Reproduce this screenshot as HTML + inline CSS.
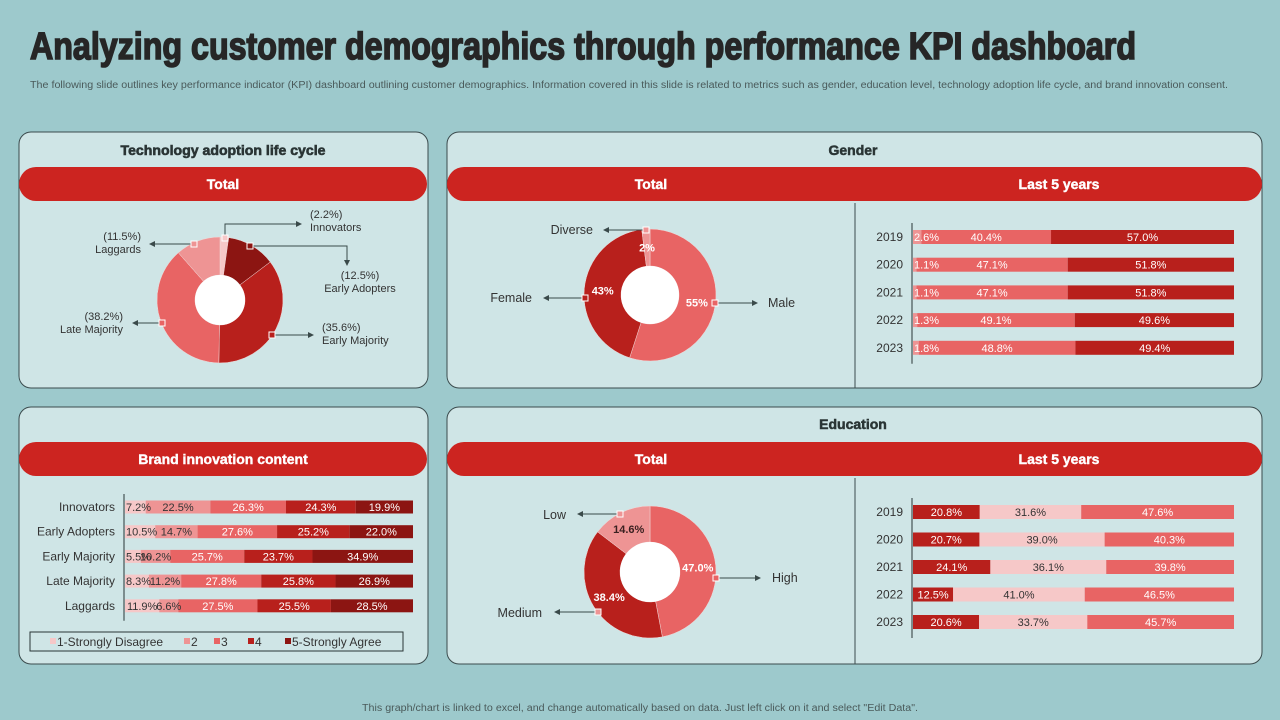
<!DOCTYPE html>
<html><head><meta charset="utf-8"><style>
html,body{margin:0;padding:0;background:#9dc9cc;}
svg{display:block;font-family:"Liberation Sans",sans-serif;}
</style></head><body>
<svg id="s" width="1280" height="720" viewBox="0 0 1280 720" xmlns="http://www.w3.org/2000/svg">
<defs><marker id="ar" markerWidth="6" markerHeight="6" refX="5" refY="3" orient="auto"><path d="M0,0L6,3L0,6Z" fill="#3a4a4a"/></marker></defs>
<rect width="1280" height="720" fill="#9dc9cc"/>
<text x="30" y="59" font-size="38" font-weight="bold" fill="#262626" stroke="#262626" stroke-width="1.6" textLength="1106" lengthAdjust="spacingAndGlyphs" font-family="'Liberation Sans Narrow','Liberation Sans',sans-serif">Analyzing customer demographics through performance KPI dashboard</text>
<text x="30" y="88" font-size="10" fill="#4a5a5a" textLength="1198" lengthAdjust="spacingAndGlyphs">The following slide outlines key performance indicator (KPI) dashboard outlining customer demographics. Information covered in this slide is related to metrics such as gender, education level, technology adoption life cycle, and brand innovation consent.</text>

<g>
<rect x="19" y="132" width="409" height="256" rx="12" fill="#cfe5e6" stroke="#3b4b4d" stroke-width="1"/>
<text x="223" y="155" text-anchor="middle" font-size="14" font-weight="bold" fill="#2a3535" stroke="#2a3535" stroke-width="0.6" textLength="205" lengthAdjust="spacingAndGlyphs" font-family="'Liberation Sans Narrow','Liberation Sans',sans-serif">Technology adoption life cycle</text>
<rect x="19" y="167" width="408" height="34" rx="17" fill="#cc2420"/>
<text x="223" y="189" text-anchor="middle" font-size="14" font-weight="bold" fill="#fff" stroke="#fff" stroke-width="0.4" font-family="'Liberation Sans Narrow','Liberation Sans',sans-serif">Total</text>
</g>
<g>
<rect x="447" y="132" width="815" height="256" rx="12" fill="#cfe5e6" stroke="#3b4b4d" stroke-width="1"/>
<text x="853" y="155" text-anchor="middle" font-size="14" font-weight="bold" fill="#2a3535" stroke="#2a3535" stroke-width="0.5" font-family="'Liberation Sans Narrow','Liberation Sans',sans-serif">Gender</text>
<rect x="447" y="167" width="815" height="34" rx="17" fill="#cc2420"/>
<text x="651" y="189" text-anchor="middle" font-size="14" font-weight="bold" fill="#fff" stroke="#fff" stroke-width="0.4" font-family="'Liberation Sans Narrow','Liberation Sans',sans-serif">Total</text>
<text x="1059" y="189" text-anchor="middle" font-size="14" font-weight="bold" fill="#fff" stroke="#fff" stroke-width="0.4" font-family="'Liberation Sans Narrow','Liberation Sans',sans-serif">Last 5 years</text>
<line x1="855" y1="203" x2="855" y2="388" stroke="#3b4b4d"/>
</g>
<g>
<rect x="19" y="407" width="409" height="257" rx="12" fill="#cfe5e6" stroke="#3b4b4d" stroke-width="1"/>
<rect x="19" y="442" width="408" height="34" rx="17" fill="#cc2420"/>
<text x="223" y="464" text-anchor="middle" font-size="14" font-weight="bold" fill="#fff" stroke="#fff" stroke-width="0.4" font-family="'Liberation Sans Narrow','Liberation Sans',sans-serif">Brand innovation content</text>
</g>
<g>
<rect x="447" y="407" width="815" height="257" rx="12" fill="#cfe5e6" stroke="#3b4b4d" stroke-width="1"/>
<text x="853" y="429" text-anchor="middle" font-size="14" font-weight="bold" fill="#2a3535" stroke="#2a3535" stroke-width="0.5" font-family="'Liberation Sans Narrow','Liberation Sans',sans-serif">Education</text>
<rect x="447" y="442" width="815" height="34" rx="17" fill="#cc2420"/>
<text x="651" y="464" text-anchor="middle" font-size="14" font-weight="bold" fill="#fff" stroke="#fff" stroke-width="0.4" font-family="'Liberation Sans Narrow','Liberation Sans',sans-serif">Total</text>
<text x="1059" y="464" text-anchor="middle" font-size="14" font-weight="bold" fill="#fff" stroke="#fff" stroke-width="0.4" font-family="'Liberation Sans Narrow','Liberation Sans',sans-serif">Last 5 years</text>
<line x1="855" y1="478" x2="855" y2="664" stroke="#3b4b4d"/>
</g>
<g id="charts"></g>
<text x="640" y="711" text-anchor="middle" font-size="10" fill="#4a5a5a" textLength="556" lengthAdjust="spacingAndGlyphs">This graph/chart is linked to excel, and change automatically based on data. Just left click on it and select "Edit Data".</text>
</svg>
<script>
const C1='#f6c8c8',C2='#ee9494',C3='#e86464',C4='#b8201c',C5='#8c1512';
// Tech adoption
const techCats=['Innovators','Early Adopters','Early Majority','Late Majority','Laggards'];
const techVals=[2.2,12.5,35.6,38.2,11.5];
// Gender total
const genderCats=['Male','Female','Diverse'];
const genderVals=[55,43,2];
// Gender years
const years=['2019','2020','2021','2022','2023'];
const gDiverse=[2.6,1.1,1.1,1.3,1.8];
const gFemale=[40.4,47.1,47.1,49.1,48.8];
const gMale=[57.0,51.8,51.8,49.6,49.4];
// Education total
const eduCats=['High','Medium','Low'];
const eduVals=[47.0,38.4,14.6];
// Education years
const eLow=[20.8,20.7,24.1,12.5,20.6];
const eMed=[31.6,39.0,36.1,41.0,33.7];
const eHigh=[47.6,40.3,39.8,46.5,45.7];
// Brand innovation
const brandCats=['Innovators','Early Adopters','Early Majority','Late Majority','Laggards'];
const b1=[7.2,10.5,5.5,8.3,11.9];
const b2=[22.5,14.7,10.2,11.2,6.6];
const b3=[26.3,27.6,25.7,27.8,27.5];
const b4=[24.3,25.2,23.7,25.8,25.5];
const b5=[19.9,22.0,34.9,26.9,28.5];
const brandLegend=['1-Strongly Disagree','2','3','4','5-Strongly Agree'];

const NS='http://www.w3.org/2000/svg';
const root=document.getElementById('charts');
function mk(tag,attrs,parent,txt){const e=document.createElementNS(NS,tag);for(const k in attrs)e.setAttribute(k,attrs[k]);if(txt!==undefined)e.textContent=txt;(parent||root).appendChild(e);return e;}
function arc(cx,cy,r0,r1,a0,a1){const p=(r,a)=>[cx+r*Math.sin(a),cy-r*Math.cos(a)];const L=a1-a0>Math.PI?1:0;const [x0,y0]=p(r1,a0),[x1,y1]=p(r1,a1),[x2,y2]=p(r0,a1),[x3,y3]=p(r0,a0);return `M${x0},${y0}A${r1},${r1} 0 ${L} 1 ${x1},${y1}L${x2},${y2}A${r0},${r0} 0 ${L} 0 ${x3},${y3}Z`;}
function donut(name,cx,cy,r0,r1,vals,cols,cats,labels){
  const g=mk('g',{});
  
  
  const tot=vals.reduce((a,b)=>a+b,0);let a=0;const mids=[];
  vals.forEach((v,i)=>{const a1=a+v/tot*2*Math.PI;const p=mk('path',{d:arc(cx,cy,r0,r1,a,a1),fill:cols[i],stroke:'#f0d8d8','stroke-width':0.5},g);
    
    
    mids.push((a+a1)/2);a=a1;});
  mk('circle',{cx,cy,r:r0,fill:'#fff'},g);
  if(labels)vals.forEach((v,i)=>{const m=mids[i],rr=(r0+r1)/2;const t=mk('text',{x:cx+rr*Math.sin(m),y:cy-rr*Math.cos(m)+4,'text-anchor':'middle','font-size':11,'font-weight':'bold',fill:labels[i][1]},g,labels[i][0]);
    
    });
  return {g,mids};
}
const tech=donut('tech-adoption-donut',220,300,25,63,techVals,[C1,C5,C4,C3,C2],techCats,null);
function callout(g,mx,my,col,path,tx,ty,anchor,lines){
  mk('path',{d:path,fill:'none',stroke:'#3a4a4a','stroke-width':1,'marker-end':'url(#ar)'},g);
  mk('rect',{x:mx-3,y:my-3,width:6,height:6,fill:col,stroke:'#fff','stroke-width':1},g);
  lines.forEach((l,i)=>{const t=mk('text',{x:tx,y:ty+i*13,'text-anchor':anchor,'font-size':lines.length>1?11:12.5,fill:'#333'},g,l);
    
    });
}
const tg=tech.g;
callout(tg,225,238,C1,'M225,238V224H301',310,218,'start',['('+techVals[0]+'%)','Innovators']);
callout(tg,250,246,C5,'M250,246H347V265',360,279,'middle',['('+techVals[1]+'%)','Early Adopters']);
callout(tg,272,335,C4,'M272,335H313',322,331,'start',['('+techVals[2]+'%)','Early Majority']);
callout(tg,162,323,C3,'M162,323H133',123,320,'end',['('+techVals[3]+'%)','Late Majority']);
callout(tg,194,244,C2,'M194,244H150',141,240,'end',['('+techVals[4]+'%)','Laggards']);
const gen=donut('gender-donut',650,295,29,66,genderVals,[C3,C4,C2],genderCats,[[genderVals[0]+'%','#fff'],[genderVals[1]+'%','#fff'],[genderVals[2]+'%','#fff']]);
callout(gen.g,715,303,C3,'M715,303H757',768,307,'start',[genderCats[0]]);
callout(gen.g,585,298,C4,'M585,298H544',532,302,'end',[genderCats[1]]);
callout(gen.g,646,230,C2,'M646,230H604',593,234,'end',[genderCats[2]]);
const edu=donut('education-donut',650,572,30,66,eduVals,[C3,C4,C2],eduCats,[[eduVals[0].toFixed(1)+'%','#fff'],[eduVals[1].toFixed(1)+'%','#fff'],[eduVals[2].toFixed(1)+'%','#3a2020']]);
callout(edu.g,716,578,C3,'M716,578H760',772,582,'start',[eduCats[0]]);
callout(edu.g,598,612,C2,'M598,612H555',542,617,'end',[eduCats[1]]);
callout(edu.g,620,514,C2,'M620,514H578',566,519,'end',[eduCats[2]]);

function stacked(name,x0,x1,y0,step,h,cats,series,cols,tcols,labelX,fs){
  const g=mk('g',{});
  
  
  const W=x1-x0;
  mk('line',{x1:x0-1,y1:y0-h,x2:x0-1,y2:y0+step*(cats.length-1)+h+2,stroke:'#2a3535'},g);
  const labs=[];
  cats.forEach((c,i)=>{const y=y0+i*step;
    const lt=mk('text',{x:labelX,y:y+4,'text-anchor':'end','font-size':12,fill:'#333'},g,c);
    
    
    const tot=series.reduce((s,a)=>s+a[i],0);let x=x0;
    series.forEach((sr,k)=>{const w=sr[i]/tot*W;
      const r=mk('rect',{x,y:y-h/2,width:w,height:h,fill:cols[k]},g);
      
      
      const small=w<32&&k==0;
      labs.push([small?x+1:x+w/2,y+4,small?'start':'middle',tcols[k],sr[i].toFixed(1)+'%']);
      x+=w;});
  });
  labs.forEach(l=>{const t=mk('text',{x:l[0],y:l[1],'text-anchor':l[2],'font-size':fs,fill:l[3]},g,l[4]);
    
    });
  return g;
}
stacked('gender-yearly-bars',913,1234,237,27.7,14,years,[gDiverse,gFemale,gMale],[C2,C3,C4],['#fff','#fff','#fff'],903,11);
stacked('education-yearly-bars',913,1234,512,27.5,14,years,[eLow,eMed,eHigh],[C4,C1,C3],['#fff','#333','#fff'],903,11);
stacked('brand-innovation-bars',125,413,507,24.7,13,brandCats,[b1,b2,b3,b4,b5],[C1,C2,C3,C4,C5],['#333','#333','#fff','#fff','#fff'],115,11);
const lg=mk('g',{});


mk('rect',{x:30,y:632,width:373,height:19,fill:'none',stroke:'#2a3535'},lg);
const lx=[58,192,222,256,293],lc=[C1,C2,C3,C4,C5];
brandLegend.forEach((l,i)=>{mk('rect',{x:lx[i]-8,y:638,width:6,height:6,fill:lc[i]},lg);
  const t=mk('text',{x:lx[i]-1,y:646,'font-size':12,fill:'#333'},lg,l);
  
  });
</script>
</body></html>
